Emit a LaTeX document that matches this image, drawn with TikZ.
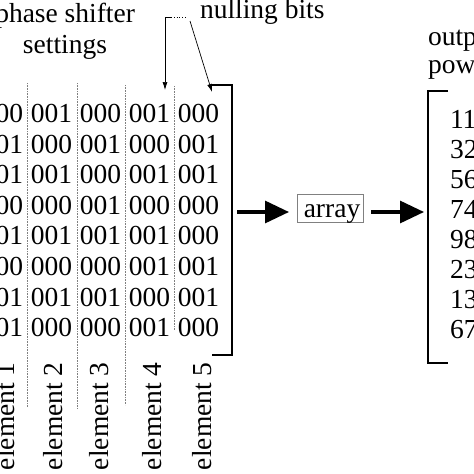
\documentclass[tikz,border=0pt]{standalone}
\usepackage{fontspec}
\setmainfont{Liberation Serif}
\usetikzlibrary{arrows.meta}
\begin{document}
\begin{tikzpicture}[x=1pt,y=-1pt,
  every node/.style={inner sep=0pt, outer sep=0pt, font=\fontsize{27.5}{30}\selectfont},
  cell/.style={anchor=base},
  sep/.style={gray, line width=0.6pt, densely dotted},
  brk/.style={line width=2.2pt},
  bigarrow/.style={line width=3.2pt, -{Triangle[length=24pt,width=22pt]}},
  thinarrow/.style={line width=0.7pt, -{Latex[length=8pt,width=5pt]}},
  elabel/.style={rotate=90, anchor=west}]
\useasboundingbox (0,0) rectangle (474,474);
\fill[white] (0,0) rectangle (474,474);
\clip (0,0) rectangle (474,474);

% headings
\node[anchor=base east] (ps) at (135,22) {phase shifter};
\node[anchor=base] (set) at (65,53) {settings};
\node[anchor=base west] (nb) at (200,18) {nulling bits};
\node[anchor=base west] (out1) at (428,45) {output};
\node[anchor=base west] (out2) at (428,73) {power};

% nulling bits pointers
\coordinate (c0) at (165,17);
\coordinate (c1) at (171,17);
\coordinate (c2) at (186,17);
\coordinate (c3) at (190,21);
\coordinate (t4) at (165,90);
\coordinate (t5) at (212,92);
\draw[line width=0.7pt] (c1) -- (c0);
\draw[line width=0.8pt, dotted] (c1) -- (c2);
\draw[thinarrow] (c0) -- (t4);
\draw[thinarrow] (c3) -- (t5);

% separators
\draw[sep] (27,83) -- (27,407);
\draw[sep] (77,83) -- (77,408);
\draw[sep] (125,85) -- (125,405);
\draw[sep] (174,86) -- (174,330);

% matrix
\foreach \r [count=\i from 0] in {
  {000,001,000,001,000},
  {001,000,001,000,001},
  {001,001,000,001,001},
  {000,000,001,000,000},
  {001,001,001,001,000},
  {000,000,000,001,001},
  {001,001,001,000,001},
  {001,000,000,001,000}}{
  \foreach \v [count=\j from 0] in \r {
    \node[cell] (m-\i-\j) at ({2.5+49*\j},{122.5+30.6*\i}) {\v};
  }
}

% left bracket (closing)
\coordinate (b1) at (212,85);
\coordinate (b2) at (232,85);
\coordinate (b3) at (232,355);
\coordinate (b4) at (212,355);
\draw[brk] (b1) -- (b2) -- (b3) -- (b4);

% array box
\node[draw=gray, line width=0.7pt, minimum width=66pt, minimum height=28pt] (arr) at (330,208) {};
\node[anchor=base] (arrtxt) at (332,217) {array};

\coordinate (a1s) at (237,212);
\coordinate (a1e) at (289,212);
\coordinate (a2s) at (371,212);
\coordinate (a2e) at (424,212);
\draw[bigarrow] (a1s) -- (a1e);
\draw[bigarrow] (a2s) -- (a2e);

% right bracket (opening)
\coordinate (o1) at (448,91);
\coordinate (o2) at (428,91);
\coordinate (o3) at (428,363);
\coordinate (o4) at (448,363);
\draw[brk] (o1) -- (o2) -- (o3) -- (o4);

% output values
\foreach \v [count=\i from 0] in {11,32,56,74,98,23,13,67}{
  \node[anchor=base west] (p-\i) at (450,{128.5+30*\i}) {\v};
}

% element labels
\node[elabel] (e1) at (5,470) {element 1};
\node[elabel] (e2) at (53,470) {element 2};
\node[elabel] (e3) at (99,470) {element 3};
\node[elabel] (e4) at (152,470) {element 4};
\node[elabel] (e5) at (202,470) {element 5};
\end{tikzpicture}
\end{document}
